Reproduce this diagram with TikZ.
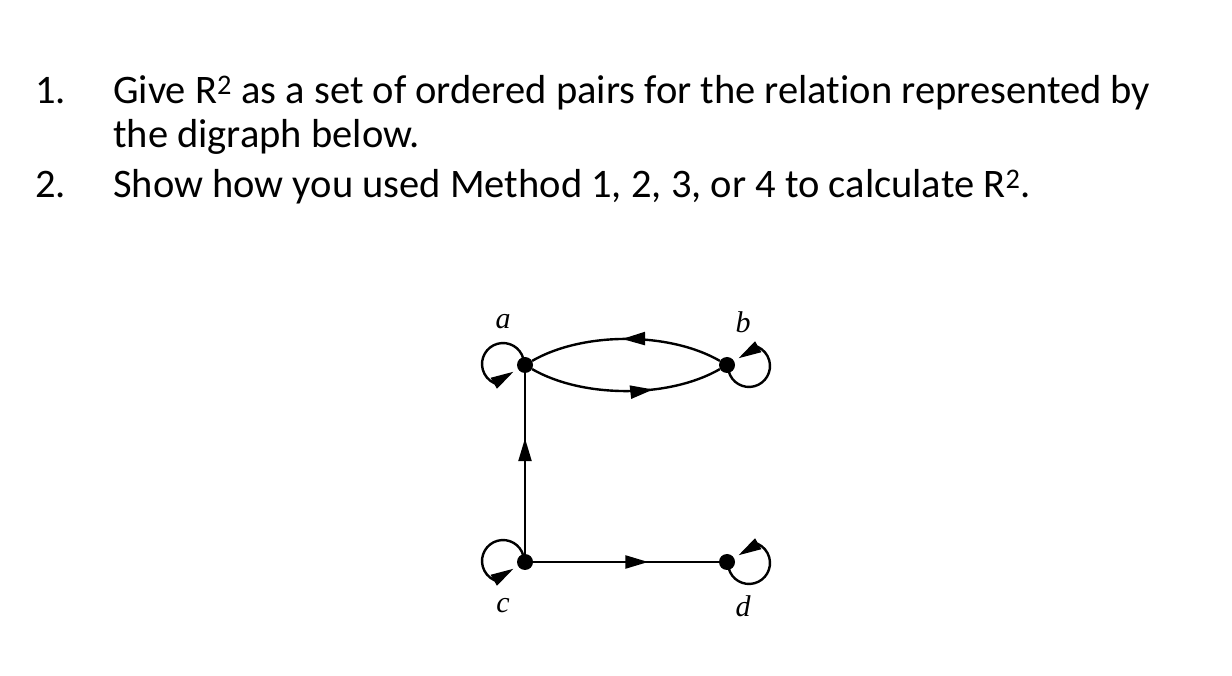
\documentclass[tikz,border=0pt]{standalone}
\usepackage{fontspec}
\setmainfont[Ligatures=NoCommon]{Carlito}
\newfontfamily\labelfont{Liberation Serif}
\usetikzlibrary{arrows.meta,decorations.markings}
\tikzset{
  tri/.tip={Triangle[length=23pt,width=13pt]},
  looptri/.tip={Triangle[length=23pt,width=12pt]},
  vertex/.style={circle,fill=black,inner sep=0pt,minimum size=16pt},
  edge/.style={line width=2.4pt},
  midarrow/.style={postaction={decorate},decoration={markings,mark=at position #1 with {\arrow{tri}}}},
  selfloop/.style={line width=2.4pt,-looptri,shorten >=5pt},
  vlabel/.style={font=\labelfont\itshape\fontsize{30}{30}\selectfont},
  qtext/.style={anchor=base west,inner sep=0pt,font=\fontsize{40.5}{44}\selectfont}
}
\begin{document}
\begin{tikzpicture}[x=1pt,y=1pt]
\path[use as bounding box] (0,0) rectangle (1232,675);
% question text
\node[qtext] (n1) at (35,571) {1.};
\node[qtext] (t1) at (113,571) {Give R\textsuperscript{2} as a set of ordered pairs for the relation represented by};
\node[qtext] (t2) at (113,527) {the digraph below.};
\node[qtext] (n2) at (35,477) {2.};
\node[qtext] (t3) at (113,477) {Show how you used Method 1, 2, 3, or 4 to calculate R\textsuperscript{2}.};
% vertices
\node[vertex] (a) at (525,310) {};
\node[vertex] (b) at (727,310) {};
\node[vertex] (c) at (525,113) {};
\node[vertex] (d) at (727,113) {};
\node[vlabel] (la) at (503,353) {a};
\node[vlabel] (lb) at (743,353) {b};
\node[vlabel] (lc) at (503,69) {c};
\node[vlabel] (ld) at (743,69) {d};
% edges
\draw[edge,midarrow=0.64] (a) to[out=-30,in=-150,looseness=0.8] (b);
\draw[edge,midarrow=0.52] (b) to[out=150,in=30,looseness=0.8] (a);
\draw[edge,midarrow=0.64] (c) -- (a);
\draw[edge,midarrow=0.62] (c) -- (d);
% loops
\draw[selfloop] ([shift={(-1.7,6.4)}]a.center) arc[start angle=15,end angle=245,radius=21] -- (a);
\draw[selfloop] ([shift={(-1.7,6.4)}]c.center) arc[start angle=15,end angle=245,radius=21] -- (c);
\draw[selfloop] ([shift={(1.7,-6.4)}]b.center) arc[start angle=195,end angle=425,radius=21] -- (b);
\draw[selfloop] ([shift={(1.7,-6.4)}]d.center) arc[start angle=195,end angle=425,radius=21] -- (d);
\end{tikzpicture}
\end{document}
